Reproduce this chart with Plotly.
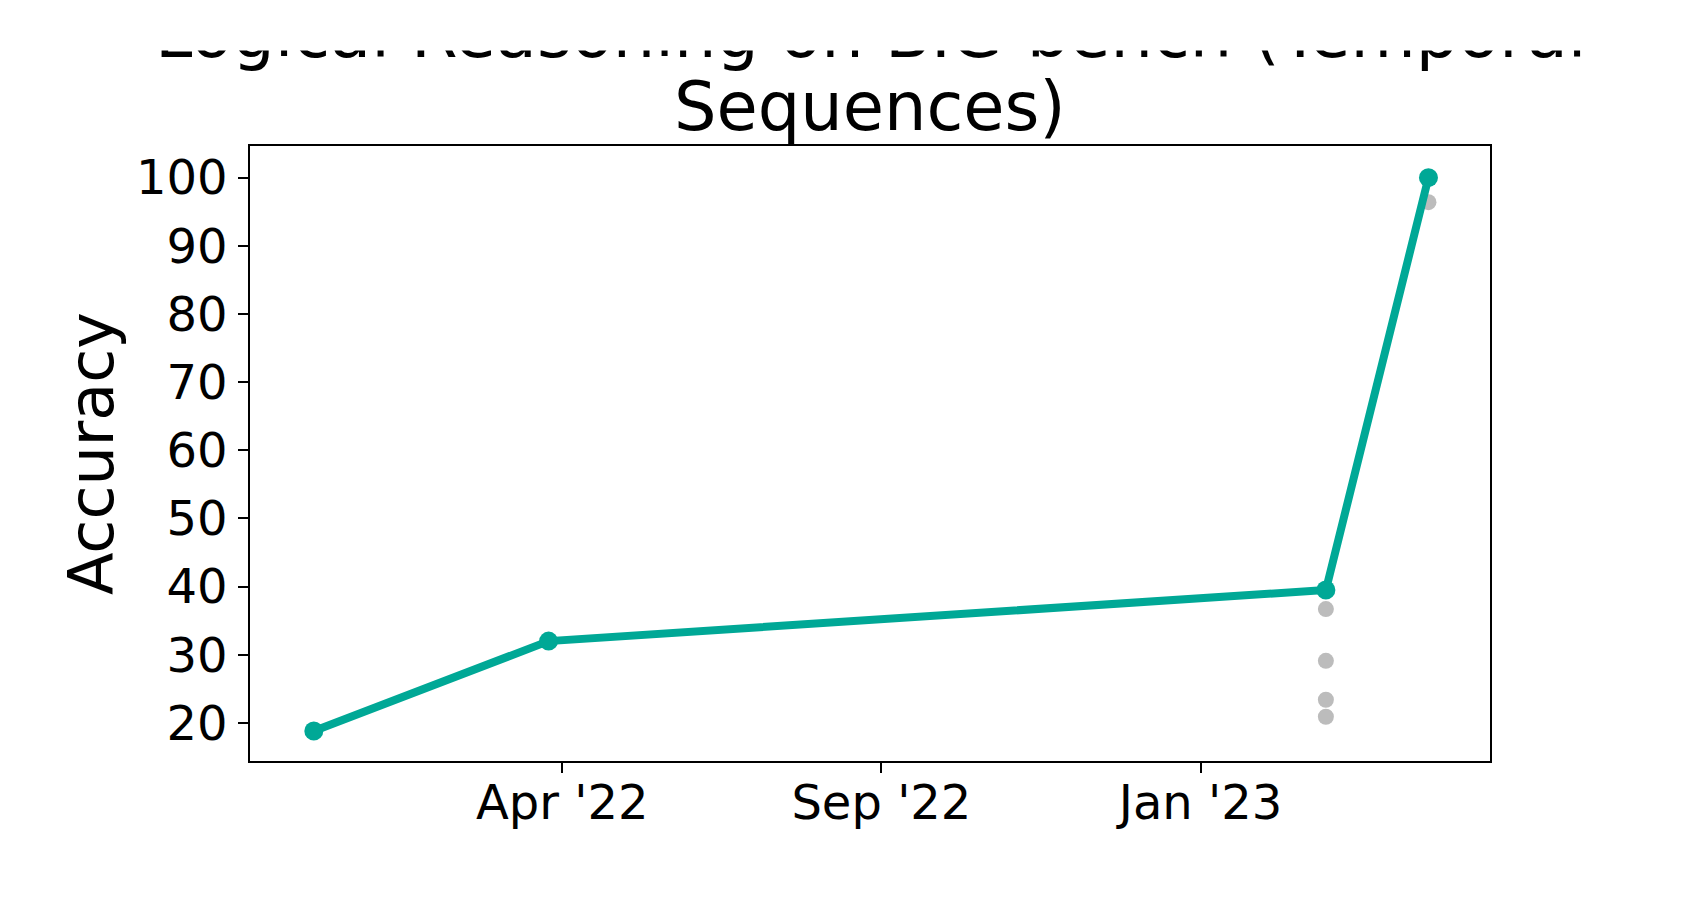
"""Accuracy over time on a BIG-bench logical reasoning task."""

import plotly.graph_objects as go

# best model per release date (teal line)
best_dates = ["2022-01-01", "2022-04-14", "2023-03-21", "2023-05-05"]
best_acc = [18.8, 32.0, 39.5, 100.0]

# other models (grey dots)
other_dates = ["2023-03-21", "2023-03-21", "2023-03-21", "2023-03-21", "2023-05-05"]
other_acc = [36.7, 29.1, 23.4, 20.9, 96.4]

x_ticks = ["2022-04-20", "2022-09-07", "2023-01-25"]
y_ticks = [20, 30, 40, 50, 60, 70, 80, 90, 100]

title_lines = ["Logical Reasoning on BIG-bench (Temporal", "Sequences)"]
y_label = "Accuracy"

FONT = "DejaVu Sans"
TEAL = "#00a896"
GREY = "#bcbcbc"

fig = go.Figure()
fig.add_trace(
    go.Scatter(
        x=other_dates,
        y=other_acc,
        mode="markers",
        marker=dict(color=GREY, size=16),
        showlegend=False,
    )
)
fig.add_trace(
    go.Scatter(
        x=best_dates,
        y=best_acc,
        mode="lines+markers",
        line=dict(color=TEAL, width=8),
        marker=dict(color=TEAL, size=19),
        showlegend=False,
    )
)

# two-line title
for line, shift in zip(title_lines, [71, -2]):
    fig.add_annotation(
        text=line,
        xref="paper",
        yref="paper",
        x=0.5,
        y=1,
        xanchor="center",
        yanchor="bottom",
        yshift=shift,
        showarrow=False,
        font=dict(family=FONT, size=67, color="black"),
    )

# the original has the top of the first title line clipped off
fig.add_annotation(
    text=" ",
    xref="paper",
    yref="paper",
    x=0.5,
    y=1,
    xanchor="center",
    yanchor="bottom",
    yshift=95,
    width=1800,
    height=60,
    borderpad=0,
    bgcolor="white",
    showarrow=False,
)

axis_style = dict(
    showline=True,
    mirror=True,
    linecolor="black",
    linewidth=1.6,
    showgrid=False,
    zeroline=False,
    ticks="outside",
    ticklen=10,
    tickwidth=1.6,
    tickcolor="black",
    tickfont=dict(family=FONT, size=48, color="black"),
    automargin=False,
)

fig.update_xaxes(
    type="date",
    range=["2021-12-04", "2023-06-01"],
    tickvals=x_ticks,
    tickformat="%b '%y",
    ticklabelstandoff=-11,
    **axis_style,
)
fig.update_yaxes(
    range=[14.41, 104.64],
    tickvals=y_ticks,
    ticklabelstandoff=1,
    title=dict(text=y_label, font=dict(family=FONT, size=62, color="black"), standoff=2),
    **axis_style,
)

fig.update_layout(
    width=1692,
    height=892,
    margin=dict(l=242, r=210, t=138, b=139),
    paper_bgcolor="white",
    plot_bgcolor="white",
    font=dict(family=FONT, color="black"),
)

fig.write_html("out.html")
